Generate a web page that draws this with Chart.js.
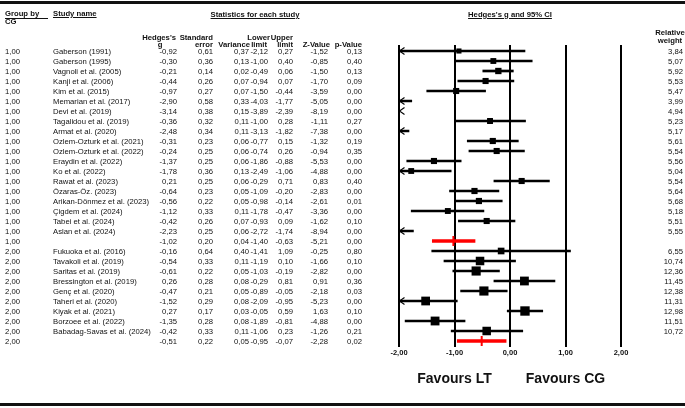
<!DOCTYPE html>
<html>
<head>
<meta charset="utf-8">
<script src="https://cdn.jsdelivr.net/npm/chart.js@4.4.0/dist/chart.umd.min.js"></script>
<style>
    html, body { margin: 0; padding: 0; background: #fff; }
    #wrap { position: relative; width: 685px; height: 408px; overflow: hidden;
            font-family: "Liberation Sans", Arial, sans-serif; color: #111; }
    #wrap canvas { position: absolute; left: 0; top: 0; }
    .t { position: absolute; font-size: 7.7px; line-height: 9px; height: 9px; white-space: nowrap; }
    .b { font-weight: bold; }
    .u { text-decoration: underline; }
    .rule { position: absolute; left: 0; width: 685px; background: #111; }
</style>
</head>
<body>
<div id="wrap">
    <div class="rule" style="top:1px;height:3px;"></div>
    <div class="rule" style="top:403px;height:3px;"></div>
    <canvas id="forest" width="685" height="408"></canvas>
</div>
<script>
// Rows: 19 + summary for group 1, 9 + summary for group 2
const groupCol = [
    '1,00', '1,00', '1,00', '1,00', '1,00', '1,00', '1,00', '1,00', '1,00', '1,00',
    '1,00', '1,00', '1,00', '1,00', '1,00', '1,00', '1,00', '1,00', '1,00', '1,00',
    '2,00', '2,00', '2,00', '2,00', '2,00', '2,00', '2,00', '2,00', '2,00', '2,00'
];
const studyNames = [
    'Gaberson (1991)', 'Gaberson (1995)', 'Vagnoli et al. (2005)', 'Kanji et al. (2006)',
    'Kim et al. (2015)', 'Memarian et al. (2017)', 'Devi et al. (2019)', 'Tagalidou et al. (2019)',
    'Armat et al. (2020)', 'Ozlem-Ozturk et al. (2021)', 'Ozlem-Ozturk et al. (2022)',
    'Eraydin et al. (2022)', 'Ko et al. (2022)', 'Rawat et al. (2023)', 'Özaras-Öz. (2023)',
    'Arikan-Dönmez et al. (2023)', 'Çigdem et al. (2024)', 'Tabei et al. (2024)',
    'Aslan et al. (2024)', '',
    'Fukuoka et al. (2016)', 'Tavakoli et al. (2019)', 'Saritas et al. (2019)',
    'Bressington et al. (2019)', 'Genç et al. (2020)', 'Taheri et al. (2020)',
    'Kiyak et al. (2021)', 'Borzoee et al. (2022)', 'Babadag-Savas et al. (2024)', ''
];
const hedgesG = [-0.92, -0.30, -0.21, -0.44, -0.97, -2.90, -3.14, -0.36, -2.48, -0.31,
    -0.24, -1.37, -1.78, 0.21, -0.64, -0.56, -1.12, -0.42, -2.23, -1.02,
    -0.16, -0.54, -0.61, 0.26, -0.47, -1.52, 0.27, -1.35, -0.42, -0.51];
const stdError = [0.61, 0.36, 0.14, 0.26, 0.27, 0.58, 0.38, 0.32, 0.34, 0.23,
    0.25, 0.25, 0.36, 0.25, 0.23, 0.22, 0.33, 0.26, 0.25, 0.20,
    0.64, 0.33, 0.22, 0.28, 0.21, 0.29, 0.17, 0.28, 0.33, 0.22];
const variance = [0.37, 0.13, 0.02, 0.07, 0.07, 0.33, 0.15, 0.11, 0.11, 0.06,
    0.06, 0.06, 0.13, 0.06, 0.05, 0.05, 0.11, 0.07, 0.06, 0.04,
    0.40, 0.11, 0.05, 0.08, 0.05, 0.08, 0.03, 0.08, 0.11, 0.05];
const lowerLimit = [-2.12, -1.00, -0.49, -0.94, -1.50, -4.03, -3.89, -1.00, -3.13, -0.77,
    -0.74, -1.86, -2.49, -0.29, -1.09, -0.98, -1.78, -0.93, -2.72, -1.40,
    -1.41, -1.19, -1.03, -0.29, -0.89, -2.09, -0.05, -1.89, -1.06, -0.95];
const upperLimit = [0.27, 0.40, 0.06, 0.07, -0.44, -1.77, -2.39, 0.28, -1.82, 0.15,
    0.26, -0.88, -1.06, 0.71, -0.20, -0.14, -0.47, 0.09, -1.74, -0.63,
    1.09, 0.10, -0.19, 0.81, -0.05, -0.95, 0.59, -0.81, 0.23, -0.07];
const zValue = [-1.52, -0.85, -1.50, -1.70, -3.59, -5.05, -8.19, -1.11, -7.38, -1.32,
    -0.94, -5.53, -4.88, 0.83, -2.83, -2.61, -3.36, -1.62, -8.94, -5.21,
    -0.25, -1.66, -2.82, 0.91, -2.18, -5.23, 1.63, -4.88, -1.26, -2.28];
const pValue = [0.13, 0.40, 0.13, 0.09, 0.00, 0.00, 0.00, 0.27, 0.00, 0.19,
    0.35, 0.00, 0.00, 0.40, 0.00, 0.01, 0.00, 0.10, 0.00, 0.00,
    0.80, 0.10, 0.00, 0.36, 0.03, 0.00, 0.10, 0.00, 0.21, 0.02];
// null = group summary row (no weight, drawn in red)
const relWeight = [3.84, 5.07, 5.92, 5.53, 5.47, 3.99, 4.94, 5.23, 5.17, 5.61,
    5.54, 5.56, 5.04, 5.54, 5.64, 5.68, 5.18, 5.51, 5.55, null,
    6.55, 10.74, 12.36, 11.45, 12.38, 11.31, 12.98, 11.51, 10.72, null];
const xTicks = [-2, -1, 0, 1, 2];

const fmt = v => v.toFixed(2).replace('.', ',');
const rows = studyNames.map((_, i) => i);
const studyRows = rows.filter(i => relWeight[i] !== null);
const summaryRows = rows.filter(i => relWeight[i] === null);

// small "<" marker for intervals running off the left edge
const arrowImg = (() => {
    const c = document.createElement('canvas');
    c.width = 16; c.height = 10;
    const x = c.getContext('2d');
    x.strokeStyle = '#000';
    x.lineWidth = 1.1;
    x.beginPath();
    x.moveTo(13.5, 1.5);
    x.lineTo(8.5, 5);
    x.lineTo(13.5, 8.5);
    x.stroke();
    return c;
})();

const chart = new Chart(document.getElementById('forest'), {
    type: 'scatter',
    data: {
        datasets: [
            {
                // study squares, side ~ sqrt(weight)
                data: studyRows.map(i => ({ x: hedgesG[i], y: i, w: relWeight[i] })),
                pointStyle: 'rect',
                pointRadius: ctx => 2.6 * Math.sqrt(ctx.raw.w) / 1.414,
                backgroundColor: '#000',
                borderWidth: 0,
                clip: 0,
                order: 0
            },
            {
                type: 'bar',
                indexAxis: 'y',
                data: studyRows.map(i => ({ x: [lowerLimit[i], upperLimit[i]], y: i })),
                backgroundColor: '#000',
                barThickness: 2,
                grouped: false,
                clip: 0,
                order: 2
            },
            {
                data: studyRows.filter(i => lowerLimit[i] < xTicks[0]).map(i => ({ x: xTicks[0], y: i })),
                pointStyle: arrowImg,
                clip: false,
                order: 1
            },
            {
                type: 'bar',
                indexAxis: 'y',
                data: summaryRows.map(i => ({ x: [lowerLimit[i], upperLimit[i]], y: i })),
                backgroundColor: '#ff0000',
                barThickness: 3,
                grouped: false,
                clip: 0,
                order: 1
            },
            {
                data: summaryRows.map(i => ({ x: hedgesG[i], y: i })),
                pointStyle: 'line',
                rotation: 90,
                pointRadius: 5,
                borderColor: '#ff0000',
                borderWidth: 2,
                order: 0
            }
        ]
    },
    options: {
        responsive: false,
        animation: false,
        layout: { padding: { left: 399, right: 64, top: 45, bottom: 50 } },
        plugins: { legend: { display: false }, tooltip: { enabled: false } },
        scales: {
            x: {
                type: 'linear',
                min: xTicks[0],
                max: xTicks[xTicks.length - 1],
                offset: false,
                afterBuildTicks: s => { s.ticks = xTicks.map(v => ({ value: v })); },
                afterFit: s => { s.height = 11; },
                ticks: {
                    callback: v => fmt(v),
                    color: '#111',
                    padding: 1,
                    font: { family: '"Liberation Sans", Arial', size: 7.5, weight: 'bold' }
                },
                grid: { color: '#000', lineWidth: 2, drawTicks: false, offset: false },
                border: { display: false }
            },
            y: {
                type: 'linear',
                reverse: true,
                min: -0.6,
                max: 29.6,
                offset: false,
                grid: { offset: false },
                display: false
            }
        }
    }
});

// ---- table text, placed on the chart's row positions ----
const wrap = document.getElementById('wrap');
function addText(txt, pos, cls = '') {
    const d = document.createElement('div');
    d.className = 't ' + cls;
    d.textContent = txt;
    d.style.top = (pos.y - 4.5) + 'px';
    if (pos.left !== undefined) d.style.left = pos.left + 'px';
    if (pos.right !== undefined) { d.style.right = (685 - pos.right) + 'px'; d.style.textAlign = 'right'; }
    if (pos.center !== undefined) { d.style.left = (pos.center - 150) + 'px'; d.style.width = '300px'; d.style.textAlign = 'center'; }
    if (pos.size) { d.style.fontSize = pos.size + 'px'; d.style.lineHeight = (pos.size + 2) + 'px'; d.style.height = (pos.size + 2) + 'px'; d.style.top = (pos.y - pos.size / 2 - 1) + 'px'; }
    wrap.appendChild(d);
    return d;
}

const yScale = chart.scales.y;
const cols = [
    { arr: hedgesG, right: 177 },
    { arr: stdError, right: 213 },
    { arr: variance, right: 249 },
    { arr: lowerLimit, right: 268 },
    { arr: upperLimit, right: 293 },
    { arr: zValue, right: 328 },
    { arr: pValue, right: 362 }
];
rows.forEach(i => {
    const y = yScale.getPixelForValue(i);
    addText(groupCol[i], { left: 5, y });
    if (studyNames[i]) addText(studyNames[i], { left: 53, y });
    cols.forEach(c => addText(fmt(c.arr[i]), { right: c.right, y }));
    if (relWeight[i] !== null) addText(fmt(relWeight[i]), { right: 683, y });
});

// headers
const gb = addText('Group by', { left: 5, y: 13.5 }, 'b');
gb.style.width = '43px';
gb.style.borderBottom = '1px solid #111';
addText('CG', { left: 5, y: 21.5 }, 'b');
addText('Study name', { left: 53, y: 13.5 }, 'b u');
addText('Statistics for each study', { center: 255, y: 14 }, 'b u');
addText('Hedges\'s g and 95% CI', { center: 510, y: 14 }, 'b u');
addText('Hedges\'s', { right: 176, y: 37 }, 'b');
addText('g', { center: 160, y: 44 }, 'b');
addText('Standard', { right: 213, y: 37 }, 'b');
addText('error', { right: 213, y: 44 }, 'b');
addText('Variance', { right: 250, y: 44 }, 'b');
addText('Lower', { right: 270, y: 37 }, 'b');
addText('limit', { right: 267, y: 44 }, 'b');
addText('Upper', { right: 293, y: 37 }, 'b');
addText('limit', { right: 293, y: 44 }, 'b');
addText('Z-Value', { right: 330, y: 44 }, 'b');
addText('p-Value', { right: 362, y: 44 }, 'b');
addText('Relative', { center: 670, y: 32 }, 'b');
addText('weight', { center: 670, y: 40 }, 'b');

// favours labels under the axis
addText('Favours LT', { center: chart.scales.x.getPixelForValue(-1), y: 378, size: 14 }, 'b');
addText('Favours CG', { center: chart.scales.x.getPixelForValue(1), y: 378, size: 14 }, 'b');
</script>
</body>
</html>
